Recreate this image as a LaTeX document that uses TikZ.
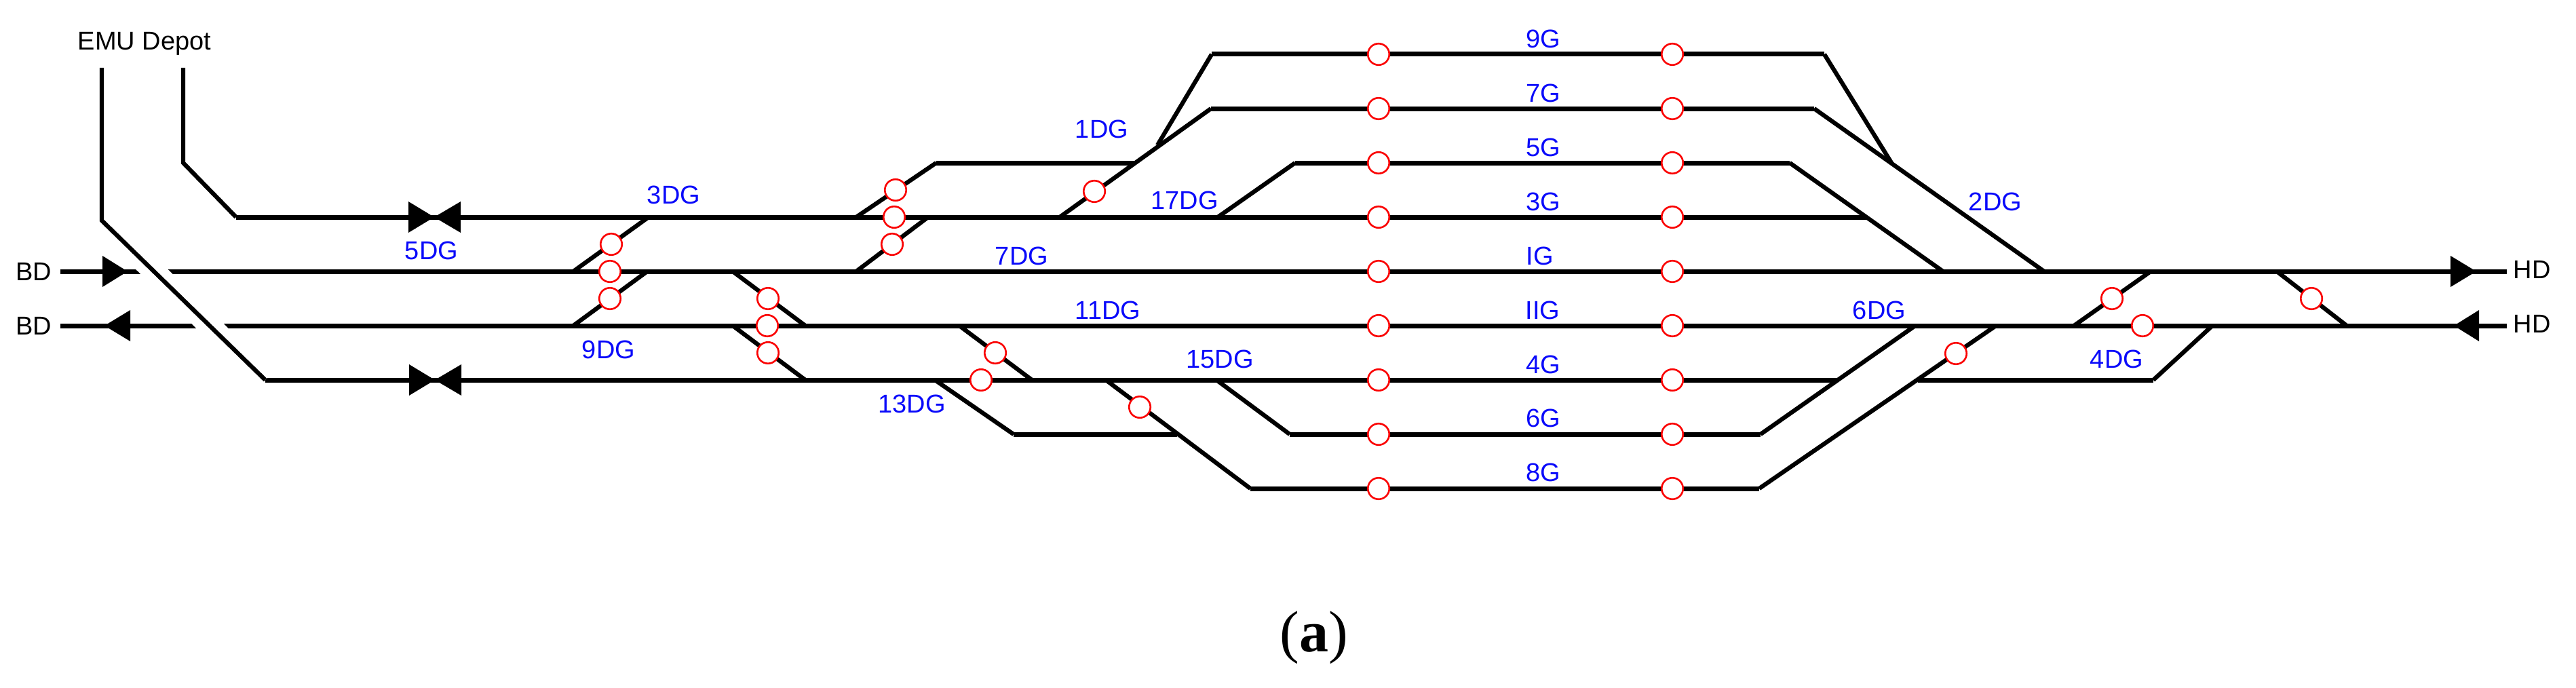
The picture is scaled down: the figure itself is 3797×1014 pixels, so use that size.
\documentclass[tikz,border=0pt]{standalone}
\usepackage{fontspec}
\setmainfont{Liberation Sans}
\newfontfamily\capfont{Liberation Serif}
\definecolor{lblue}{RGB}{10,10,250}
\definecolor{lred}{RGB}{250,0,0}
\tikzset{
  track/.style={draw=black,line width=7pt,line join=miter},
  link/.style={draw=black,line width=6.3pt,line join=miter},
  sig/.style={circle,draw=lred,line width=2.6pt,fill=white,minimum size=31.5pt,inner sep=0pt},
  blab/.style={text=lblue,font=\fontsize{38}{40}\selectfont,inner sep=0pt},
  klab/.style={text=black,font=\fontsize{38}{40}\selectfont,inner sep=0pt},
}
\begin{document}
\begin{tikzpicture}[x=1pt,y=-1pt]
\useasboundingbox (0,0) rectangle (3797,1014);
% --- junction coordinates ---
\coordinate (dA) at (150,100);
\coordinate (dB) at (150,325);
\coordinate (dC) at (391,560);
\coordinate (dD) at (270,100);
\coordinate (dE) at (270,240);
\coordinate (dF) at (348,320);
\coordinate (bdTa) at (89,400);
\coordinate (bdTb) at (3695,400);
\coordinate (bdBa) at (89,480);
\coordinate (bdBb) at (3695,480);
\coordinate (c3a) at (956,320);
\coordinate (c3b) at (845,400);
\coordinate (c9a) at (954,400);
\coordinate (c9b) at (845,480);
\coordinate (x1a) at (1080,400);
\coordinate (x1b) at (1187,480);
\coordinate (x2a) at (1080,480);
\coordinate (x2b) at (1187,560);
\coordinate (u1a) at (1262,320);
\coordinate (u1b) at (1380,240);
\coordinate (u1c) at (1673,240);
\coordinate (u2a) at (1368,320);
\coordinate (u2b) at (1262,400);
\coordinate (u3a) at (1562,320);
\coordinate (u3b) at (1785,160);
\coordinate (u4a) at (1706,214);
\coordinate (u4b) at (1786,80);
\coordinate (u5a) at (1795,320);
\coordinate (u5b) at (1909,240);
\coordinate (l1a) at (1378,560);
\coordinate (l1b) at (1494,640);
\coordinate (l1c) at (1735,640);
\coordinate (l2a) at (1414,480);
\coordinate (l2b) at (1521,560);
\coordinate (l3a) at (1630,560);
\coordinate (l3b) at (1843,720);
\coordinate (l4a) at (1793,560);
\coordinate (l4b) at (1901,640);
\coordinate (r9a) at (2689,80);
\coordinate (r9b) at (2788,240);
\coordinate (r7a) at (2674,160);
\coordinate (r7b) at (3013,400);
\coordinate (r5a) at (2638,240);
\coordinate (r5b) at (2864,400);
\coordinate (r3a) at (2752,320);
\coordinate (r4a) at (2707,560);
\coordinate (r6a) at (2595,640);
\coordinate (r6b) at (2823,480);
\coordinate (r8a) at (2593,720);
\coordinate (r8b) at (2942,480);
\coordinate (r4b) at (2827,560);
\coordinate (r4c) at (3174,560);
\coordinate (r4d) at (3261,480);
\coordinate (s1a) at (3170,400);
\coordinate (s1b) at (3057,480);
\coordinate (s2a) at (3356,400);
\coordinate (s2b) at (3459,480);
% --- through tracks ---
\draw[track] (bdTa) -- (bdTb);
\draw[track] (bdBa) -- (bdBb);
\draw[link] (dD) -- (dE) -- (dF);
\draw[track] (dF) -- (r3a);
\draw[track] (dC) -- (r4a);
% --- depot line crossing the BD lines ---
\draw[white,line width=33pt] (dB) -- (dC);
\draw[link] (dA) -- (dB) -- (dC);
% --- crossovers ---
\draw[link] (c3a) -- (c3b);
\draw[link] (c9a) -- (c9b);
\draw[link] (x1a) -- (x1b);
\draw[link] (x2a) -- (x2b);
\draw[link] (u1a) -- (u1b);
\draw[track] (u1b) -- (u1c);
\draw[link] (u2a) -- (u2b);
\draw[link] (u3a) -- (u3b);
\draw[link] (u4a) -- (u4b);
\draw[link] (u5a) -- (u5b);
\draw[link] (l1a) -- (l1b);
\draw[track] (l1b) -- (l1c);
\draw[link] (l2a) -- (l2b);
\draw[link] (l3a) -- (l3b);
\draw[link] (l4a) -- (l4b);
% --- station tracks ---
\draw[track] (u4b) -- (r9a);
\draw[track] (u3b) -- (r7a);
\draw[track] (u5b) -- (r5a);
\draw[track] (l4b) -- (r6a);
\draw[track] (l3b) -- (r8a);
% --- right throat ---
\draw[link] (r9a) -- (r9b);
\draw[link] (r7a) -- (r7b);
\draw[link] (r5a) -- (r5b);
\draw[link] (r6a) -- (r6b);
\draw[link] (r8a) -- (r8b);
\draw[track] (r4b) -- (r4c);
\draw[link] (r4c) -- (r4d);
\draw[link] (s1a) -- (s1b);
\draw[link] (s2a) -- (s2b);
% --- arrows and bow ties ---
\fill (151,377) -- (188,400) -- (151,423) -- cycle;
\fill (154,480) -- (192,457) -- (192,503) -- cycle;
\fill (3612,377) -- (3650,400) -- (3612,423) -- cycle;
\fill (3617,480) -- (3654,457) -- (3654,503) -- cycle;
\fill (602,297) -- (640,320) -- (602,343) -- cycle;
\fill (679,297) -- (640,320) -- (679,343) -- cycle;
\fill (603,537) -- (641,560) -- (603,583) -- cycle;
\fill (680,537) -- (641,560) -- (680,583) -- cycle;
% --- signals ---
\foreach \n/\x/\y in {
  p1/901/360,p2/899/400,p3/899/440,
  p4/1132/440,p5/1131/480,p6/1132/520,
  p7/1320/280,p8/1318/320,p9/1315/360,
  p10/1613/282,p11/1467/520,p12/1446/560,p13/1680/600,
  p14/3113/440,p15/3407/440,p16/3158/480,p17/2883/521}{
  \node[sig] (\n) at (\x,\y) {};
}
\foreach \y [count=\k] in {80,160,240,320,400,480,560,640,720}{
  \node[sig] (ml\k) at (2032,\y) {};
  \node[sig] (mr\k) at (2465,\y) {};
}
% --- labels ---
\foreach \n/\t/\x/\y in {
  g9/9G/2275/57,g7/7G/2275/137,g5/5G/2275/217,g3/3G/2275/297,
  g1/IG/2270/377,g2/IIG/2274/457,g4/4G/2275/537,g6/6G/2275/616,g8/8G/2275/696,
  l1/1DG/1624/190,l17/17DG/1746/295,l7/7DG/1506/377,l11/11DG/1633/457,
  l15/15DG/1798/529,l13/13DG/1344/595,l3/3DG/993/287,l5/5DG/636/369,
  l9/9DG/897/515,lr2/2DG/2941/297,lr6/6DG/2770/457,lr4/4DG/3120/529}{
  \node[blab] (\n) at (\x,\y) {\t};
}
\node[klab] (emu) at (213,64) {EMU Depot};
\node[klab] (bd1) at (50,400) {BD};
\node[klab] (bd2) at (50,480) {BD};
\node[klab] (hd1) at (3732,397) {HD};
\node[klab] (hd2) at (3732,477) {HD};
\node[inner sep=0pt,anchor=base,font=\capfont\fontsize{86}{90}\selectfont] (cap) at (1937,960) {(\textbf{a})};
\end{tikzpicture}
\end{document}
